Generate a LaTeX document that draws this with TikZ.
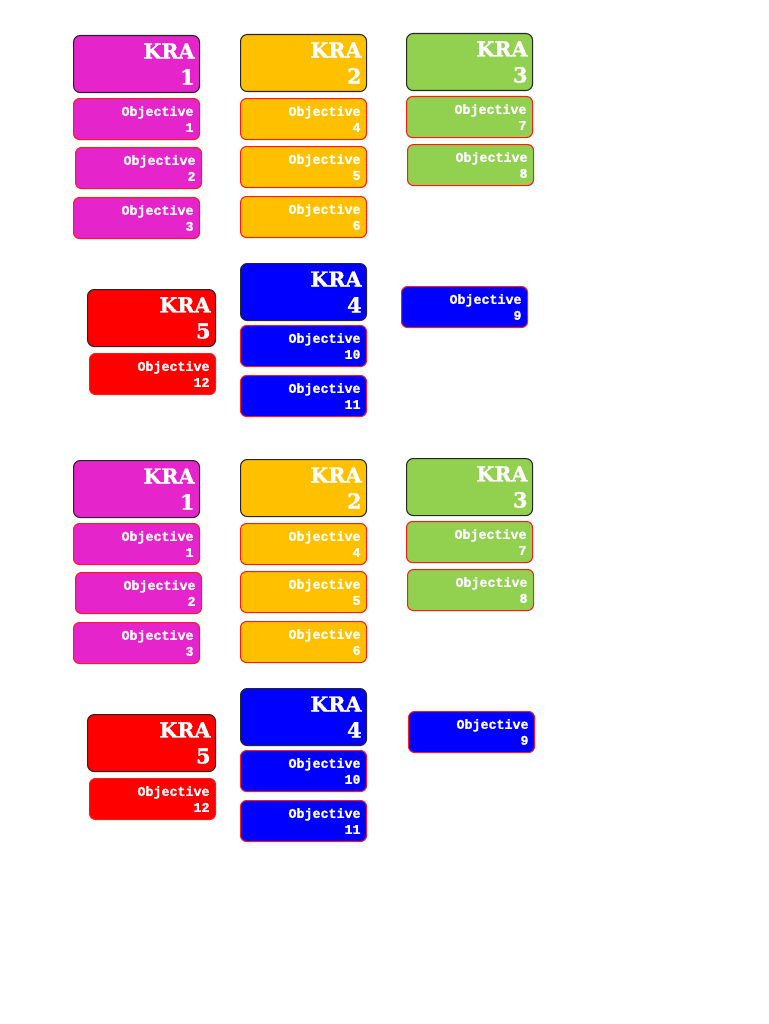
\documentclass[tikz,border=0pt]{standalone}
\usepackage{fontspec}
\usepackage{tikz}
\usetikzlibrary{positioning}
\newfontfamily\krafont{DejaVu Serif}[BoldFont={DejaVu Serif Bold},BoldFeatures={FakeBold=1.5}]
\newfontfamily\objfont{Liberation Mono}[BoldFont={Liberation Mono Bold},BoldFeatures={FakeBold=1.2}]
\definecolor{kramag}{HTML}{E524CB}
\definecolor{kraorange}{HTML}{FFC000}
\definecolor{kragreen}{HTML}{92D050}
\definecolor{krared}{HTML}{FF0000}
\definecolor{krablue}{HTML}{0000FF}
\tikzset{
  kra/.style={draw=black!85,line width=0.8pt,rounded corners=5pt,anchor=north west,
    text width=87pt,inner xsep=3.75pt,inner ysep=0pt,minimum height=42.75pt,
    align=right,text=white,font=\krafont\bfseries\fontsize{15.5}{19.5}\selectfont},
  obj/.style={draw=red!90!white,line width=0.8pt,rounded corners=4.5pt,anchor=north west,
    text width=85.5pt,inner xsep=4.5pt,inner ysep=0pt,minimum height=30.75pt,
    align=right,text=white,font=\objfont\bfseries\fontsize{10}{12}\selectfont}
}
\begin{document}
\begin{tikzpicture}[x=0.75pt,y=-0.75pt]
\useasboundingbox[fill=white] (0,0) rectangle (768,1024);
% upper chart
\node[kra,fill=kramag] (k1) at (73,35) {KRA\\1};
\node[obj,fill=kramag] (o1) at (73,98) {Objective\\1};
\node[obj,fill=kramag] (o2) at (75,147) {Objective\\2};
\node[obj,fill=kramag] (o3) at (73,197) {Objective\\3};
\node[kra,fill=kraorange] (k2) at (240,34) {KRA\\2};
\node[obj,fill=kraorange] (o4) at (240,98) {Objective\\4};
\node[obj,fill=kraorange] (o5) at (240,146) {Objective\\5};
\node[obj,fill=kraorange] (o6) at (240,196) {Objective\\6};
\node[kra,fill=kragreen] (k3) at (406,33) {KRA\\3};
\node[obj,fill=kragreen] (o7) at (406,96) {Objective\\7};
\node[obj,fill=kragreen] (o8) at (407,144) {Objective\\8};
\node[kra,fill=krared,text width=88.5pt] (k5) at (87,289) {KRA\\5};
\node[obj,fill=krared] (o12) at (89,353) {Objective\\12};
\node[kra,fill=krablue] (k4) at (240,263) {KRA\\4};
\node[obj,fill=krablue] (o10) at (240,325) {Objective\\10};
\node[obj,fill=krablue] (o11) at (240,375) {Objective\\11};
\node[obj,fill=krablue] (o9) at (401,286) {Objective\\9};
% lower chart
\node[kra,fill=kramag] (k1b) at (73,460) {KRA\\1};
\node[obj,fill=kramag] (o1b) at (73,523) {Objective\\1};
\node[obj,fill=kramag] (o2b) at (75,572) {Objective\\2};
\node[obj,fill=kramag] (o3b) at (73,622) {Objective\\3};
\node[kra,fill=kraorange] (k2b) at (240,459) {KRA\\2};
\node[obj,fill=kraorange] (o4b) at (240,523) {Objective\\4};
\node[obj,fill=kraorange] (o5b) at (240,571) {Objective\\5};
\node[obj,fill=kraorange] (o6b) at (240,621) {Objective\\6};
\node[kra,fill=kragreen] (k3b) at (406,458) {KRA\\3};
\node[obj,fill=kragreen] (o7b) at (406,521) {Objective\\7};
\node[obj,fill=kragreen] (o8b) at (407,569) {Objective\\8};
\node[kra,fill=krared,text width=88.5pt] (k5b) at (87,714) {KRA\\5};
\node[obj,fill=krared] (o12b) at (89,778) {Objective\\12};
\node[kra,fill=krablue] (k4b) at (240,688) {KRA\\4};
\node[obj,fill=krablue] (o10b) at (240,750) {Objective\\10};
\node[obj,fill=krablue] (o11b) at (240,800) {Objective\\11};
\node[obj,fill=krablue] (o9b) at (408,711) {Objective\\9};
\end{tikzpicture}
\end{document}
